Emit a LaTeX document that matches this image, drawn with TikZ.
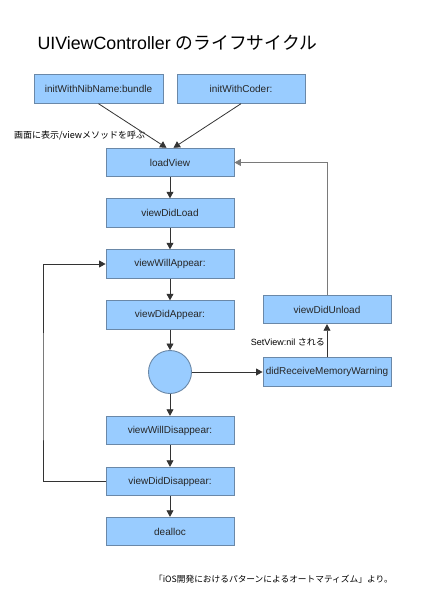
\documentclass[tikz,border=0pt]{standalone}
\usepackage{fontspec}
\setmainfont{Liberation Sans}
\newfontfamily\jp{Noto Sans CJK JP}
\usetikzlibrary{arrows.meta}
\definecolor{boxfill}{HTML}{99CCFF}
\definecolor{boxline}{HTML}{6A88A8}
\definecolor{linec}{HTML}{333333}
\definecolor{loopc}{HTML}{7A7A7A}
\begin{document}
\begin{tikzpicture}[x=1pt,y=-1pt,
  mbox/.style={draw=boxline,fill=boxfill,line width=0.9pt,minimum width=128pt,minimum height=28.5pt,inner sep=0pt,font=\fontsize{10}{12}\selectfont,text=black!85},
  conn/.style={draw=linec,line width=0.8pt,-{Triangle[width=7pt,length=6.5pt]}},
  loopl/.style={draw=loopc,line width=0.8pt,-{Triangle[width=7pt,length=6.5pt]}}]
\useasboundingbox (0,0) rectangle (422,600);
\node[anchor=west,font=\fontsize{17.8}{20}\selectfont] (title) at (34,43) {UIViewController {\jp のライフサイクル}};
\node[mbox,minimum width=129pt] (nib) at (98.5,89) {initWithNibName:bundle};
\node[mbox] (coder) at (241,89) {initWithCoder:};
\node[mbox] (load) at (170,162.5) {loadView};
\node[mbox] (didload) at (170,213) {viewDidLoad};
\node[mbox] (willapp) at (170,264) {viewWillAppear:};
\node[mbox] (didapp) at (170,315) {viewDidAppear:};
\node[circle,draw=boxline,fill=boxfill,line width=0.9pt,minimum size=43pt,inner sep=0pt] (circ) at (170,372) {};
\node[mbox] (willdis) at (170,430.5) {viewWillDisappear:};
\node[mbox] (diddis) at (170,481.5) {viewDidDisappear:};
\node[mbox] (dealloc) at (170,531.5) {dealloc};
\node[mbox] (memwarn) at (327,372) {didReceiveMemoryWarning};
\node[mbox] (unload) at (327,309.5) {viewDidUnload};
\node[anchor=west,font=\jp\fontsize{9}{11}\selectfont,inner sep=0pt] (lbl1) at (14,136) {画面に表示/viewメソッドを呼ぶ};
\node[anchor=east,font=\fontsize{9}{11}\selectfont,inner sep=0pt] (lbl2) at (325,342) {SetView:nil {\jp される}};
\node[anchor=east,font=\jp\fontsize{8.7}{10}\selectfont,inner sep=0pt] (foot) at (393,579) {「iOS開発におけるパターンによるオートマティズム」より。};
\draw[conn] (nib.south) -- ([xshift=-3.5pt]load.north);
\draw[conn] (coder.south) -- ([xshift=3.5pt]load.north);
\draw[conn] (load) -- (didload);
\draw[conn] (didload) -- (willapp);
\draw[conn] (willapp) -- (didapp);
\draw[conn] (didapp) -- (circ);
\draw[conn] (circ) -- (willdis);
\draw[conn] (willdis) -- (diddis);
\draw[conn] (diddis) -- (dealloc);
\draw[conn] (circ) -- (memwarn);
\draw[conn] (memwarn) -- (unload);
\draw[loopl] (unload.north) |- (load.east);
\draw[conn] (diddis.west) -| (43,400) |- (willapp.west);
\end{tikzpicture}
\end{document}
